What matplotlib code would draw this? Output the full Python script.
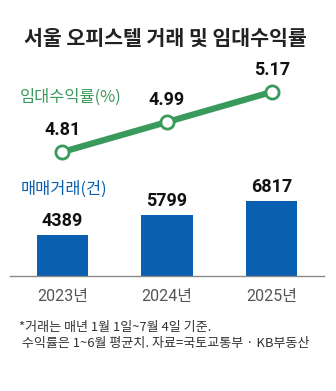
import matplotlib
matplotlib.use("Agg")
import matplotlib.pyplot as plt
from matplotlib import font_manager

# data
years = ['2023년', '2024년', '2025년']
deals = [4389, 5799, 6817]
yields = [4.81, 4.99, 5.17]

title = '서울 오피스텔 거래 및 임대수익률'
line_label = '임대수익률(%)'
bar_label = '매매거래(건)'
note1 = '*거래는 매년 1월 1일~7월 4일 기준.'
note2 = ' 수익률은 1~6월 평균치. 자료=국토교통부 · KB부동산'

green = '#3a9a5c'
blue = '#0b5fb0'
gray = '#555555'

names = {f.name for f in font_manager.fontManager.ttflist}
narrow = 'Liberation Sans Narrow' if 'Liberation Sans Narrow' in names else 'Roboto'
kr = 'Noto Sans CJK KR'
plt.rcParams['font.family'] = [kr, 'DejaVu Sans']

W, H = 336, 391
fig = plt.figure(figsize=(W / 100, H / 100), dpi=100)
fig.patch.set_facecolor('white')

def px(x, y):
    return x / W, 1 - y / H

# axes area from y=60 to y=276 px, x from 10 to 324 px
left, bottom = px(10, 276)
width = 314 / W
height = 216 / H
ax = fig.add_axes([left, bottom, width, height])
ax2 = fig.add_axes([left, bottom, width, height], sharex=ax)

x = list(range(len(years)))
ax.bar(x, deals, width=0.49, color=blue)
ax.set_xlim(-0.5, 2.5)
ax.set_ylim(1457, 1457 + 216 / 0.014)
for xi, v in zip(x, deals):
    ax.annotate(str(v), (xi, v), xytext=(0, 14), textcoords='offset pixels',
                ha='center', va='center', fontsize=13, fontweight='bold',
                color='#111111', family=[narrow, 'DejaVu Sans'])

ax2.plot(x, yields, color=green, lw=4.5, marker='o', ms=9.5,
         mfc='white', mec=green, mew=2, solid_capstyle='round', zorder=3)
ax2.set_ylim(4.066, 5.362)
for xi, v in zip(x, yields):
    ax2.annotate(f'{v:.2f}', (xi, v), xytext=(0, 22), textcoords='offset pixels',
                 ha='center', va='center', fontsize=13, fontweight='bold',
                 color='#111111', family=[narrow, 'DejaVu Sans'])

for a in (ax, ax2):
    a.patch.set_alpha(0)
    for s in ['top', 'right', 'left']:
        a.spines[s].set_visible(False)
    a.set_yticks([])
ax2.spines['bottom'].set_visible(False)
ax.spines['bottom'].set_color('#8a8a8a')
ax.spines['bottom'].set_linewidth(1)
ax.set_xticks(x)
ax.set_xticklabels(years, color=gray, fontsize=11.5,
                   family=[narrow, kr])
ax.tick_params(axis='x', length=0, pad=9)
ax2.tick_params(axis='x', length=0, labelbottom=False)

fig.text(*px(165, 38), title, ha='center', va='center', fontsize=14.8,
         fontweight='heavy', color='#222222')
fig.text(*px(20, 97), line_label, ha='left', va='center', fontsize=11.8,
         fontweight='medium', color=green)
fig.text(*px(21, 189), bar_label, ha='left', va='center', fontsize=11.8,
         fontweight='medium', color=blue)
fig.text(*px(19, 327), note1, ha='left', va='center', fontsize=9.4,
         color='#333333')
fig.text(*px(19, 343), note2, ha='left', va='center', fontsize=9.4,
         color='#333333')

fig.savefig('out.png', dpi=100)
